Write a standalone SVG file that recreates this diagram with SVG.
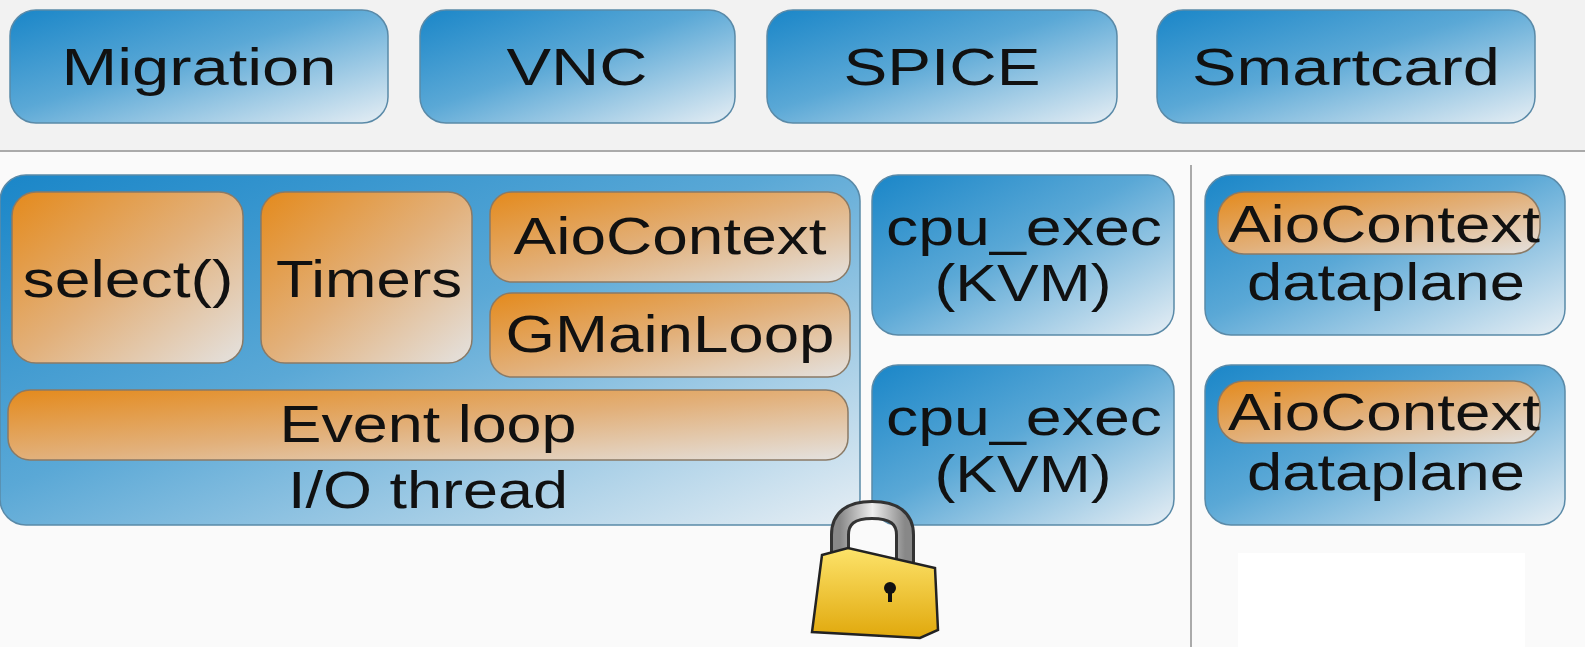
<svg xmlns="http://www.w3.org/2000/svg" width="1585" height="647" viewBox="0 0 1585 647">
<defs>
<linearGradient id="gb" x1="0" y1="0" x2="1" y2="1"><stop offset="0" stop-color="#1a86c8"/><stop offset="0.45" stop-color="#5aa8d6"/><stop offset="1" stop-color="#e6eef4"/></linearGradient>
<linearGradient id="go" x1="0" y1="0" x2="1" y2="1"><stop offset="0" stop-color="#e48a1c"/><stop offset="0.5" stop-color="#e2b07a"/><stop offset="1" stop-color="#e4e2e0"/></linearGradient>
<linearGradient id="gy" x1="0" y1="0" x2="0" y2="1"><stop offset="0" stop-color="#fde36a"/><stop offset="1" stop-color="#e0a80c"/></linearGradient>
<linearGradient id="gs" x1="0" y1="0" x2="1" y2="0"><stop offset="0" stop-color="#888"/><stop offset="0.5" stop-color="#eee"/><stop offset="1" stop-color="#888"/></linearGradient>
</defs>
<style>
.b{fill:url(#gb);stroke:#5a8aa8;stroke-width:1.5}
.o{fill:url(#go);stroke:#8a7a66;stroke-width:1.5}
text{font-family:"Liberation Sans",Arial,sans-serif;font-size:52px;fill:#111;text-anchor:middle}
</style>
<rect width="1585" height="647" fill="#fafafa"/>
<rect width="1585" height="150" fill="#f2f2f2"/>
<line x1="0" y1="151" x2="1585" y2="151" stroke="#aaa" stroke-width="2"/>
<line x1="1191" y1="165" x2="1191" y2="647" stroke="#aaa" stroke-width="2"/>
<rect x="1238" y="553" width="287" height="94" fill="#fff"/>
<g id="migration"><rect class="b" x="10" y="10" width="378" height="113" rx="26"/><text x="199" y="85" textLength="275" lengthAdjust="spacingAndGlyphs">Migration</text></g>
<g id="vnc"><rect class="b" x="420" y="10" width="315" height="113" rx="26"/><text x="577" y="85" textLength="141" lengthAdjust="spacingAndGlyphs">VNC</text></g>
<g id="spice"><rect class="b" x="767" y="10" width="350" height="113" rx="26"/><text x="942" y="85" textLength="197" lengthAdjust="spacingAndGlyphs">SPICE</text></g>
<g id="smartcard"><rect class="b" x="1157" y="10" width="378" height="113" rx="26"/><text x="1346" y="85" textLength="308" lengthAdjust="spacingAndGlyphs">Smartcard</text></g>
<g id="iothread"><rect class="b" x="0" y="175" width="860" height="350" rx="26"/><text x="428" y="508" textLength="280" lengthAdjust="spacingAndGlyphs">I/O thread</text></g>
<g id="select"><rect class="o" x="12" y="192" width="231" height="171" rx="24"/><text x="128" y="297" textLength="211" lengthAdjust="spacingAndGlyphs">select()</text></g>
<g id="timers"><rect class="o" x="261" y="192" width="211" height="171" rx="24"/><text x="369" y="297" textLength="186" lengthAdjust="spacingAndGlyphs">Timers</text></g>
<g id="aio1"><rect class="o" x="490" y="192" width="360" height="90" rx="22"/><text x="670" y="254" textLength="313" lengthAdjust="spacingAndGlyphs">AioContext</text></g>
<g id="gmain"><rect class="o" x="490" y="293" width="360" height="84" rx="22"/><text x="670" y="352" textLength="329" lengthAdjust="spacingAndGlyphs">GMainLoop</text></g>
<g id="eventloop"><rect class="o" x="8" y="390" width="840" height="70" rx="22"/><text x="428" y="442" textLength="297" lengthAdjust="spacingAndGlyphs">Event loop</text></g>
<g id="cpu1"><rect class="b" x="872" y="175" width="302" height="160" rx="26"/><text x="1024" y="245" textLength="276" lengthAdjust="spacingAndGlyphs">cpu_exec</text><text x="1023" y="301" textLength="177" lengthAdjust="spacingAndGlyphs">(KVM)</text></g>
<g id="cpu2"><rect class="b" x="872" y="365" width="302" height="160" rx="26"/><text x="1024" y="435" textLength="276" lengthAdjust="spacingAndGlyphs">cpu_exec</text><text x="1023" y="492" textLength="177" lengthAdjust="spacingAndGlyphs">(KVM)</text></g>
<g id="dp1"><rect class="b" x="1205" y="175" width="360" height="160" rx="26"/><rect class="o" x="1218" y="192" width="322" height="62" rx="26"/><text x="1384" y="242" textLength="312" lengthAdjust="spacingAndGlyphs">AioContext</text><text x="1386" y="300" textLength="278" lengthAdjust="spacingAndGlyphs">dataplane</text></g>
<g id="dp2"><rect class="b" x="1205" y="365" width="360" height="160" rx="26"/><rect class="o" x="1218" y="381" width="322" height="62" rx="26"/><text x="1384" y="430" textLength="312" lengthAdjust="spacingAndGlyphs">AioContext</text><text x="1386" y="490" textLength="278" lengthAdjust="spacingAndGlyphs">dataplane</text></g>
<g id="lock">
<path d="M840,556 L840,535 Q840,510 872,510 Q905,510 905,535 L905,562" fill="none" stroke="#333" stroke-width="20"/>
<path d="M840,556 L840,535 Q840,510 872,510 Q905,510 905,535 L905,562" fill="none" stroke="url(#gs)" stroke-width="14"/>
<path d="M822,555 L848,548 L935,568 L938,630 L920,638 L812,632 Z" fill="url(#gy)" stroke="#222" stroke-width="2.5"/>
<circle cx="890" cy="588" r="6" fill="#111"/><rect x="888" y="588" width="4" height="14" fill="#111"/>
</g>
</svg>
